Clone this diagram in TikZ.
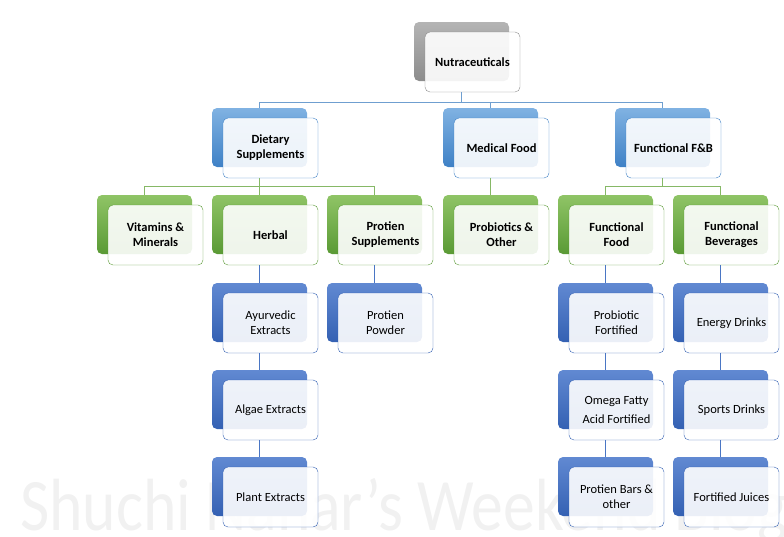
\documentclass[tikz,border=0pt]{standalone}
\usepackage{fontspec}
\setmainfont{Carlito}
\definecolor{grayT}{HTML}{B4B4B4}\definecolor{grayB}{HTML}{8C8C8C}
\definecolor{lblueT}{HTML}{80B2E2}\definecolor{lblueB}{HTML}{3F81C6}
\definecolor{greenT}{HTML}{8FC466}\definecolor{greenB}{HTML}{5A9A35}
\definecolor{dblueT}{HTML}{6189D2}\definecolor{dblueB}{HTML}{3461B3}
\definecolor{lblueL}{HTML}{6F9FD0}\definecolor{greenL}{HTML}{86B866}\definecolor{dblueL}{HTML}{4A76C4}
\tikzset{
  back/.style={draw=none, rounded corners=5pt, minimum width=95pt, minimum height=59pt,
    top color=#1T, bottom color=#1B},
  front/.style={draw=#1B, fill=white, fill opacity=0.9, text opacity=1, rounded corners=5pt,
    minimum width=95pt, minimum height=60pt, align=center, inner sep=1pt,
    font=\fontsize{12.5}{15}\selectfont},
  link/.style={draw=#1, line width=0.8pt}
}
% name, left x, top y, colour, text
\newcommand\bx[5]{%
  \node[back=#4] (#1B) at (#2+47.5, #3+29.5) {};
  \node[front=#4] (#1) at (#2+58.5, #3+40) {#5};}
\begin{document}
\begin{tikzpicture}[x=1pt, y=-1pt]
\useasboundingbox (0,0) rectangle (784,536);
\node[anchor=base west, text=gray!11, font=\fontsize{74}{80}\selectfont, inner sep=0, xscale=0.86] at (20,530) {Shuchi Nahar's Weekend Blog};

\bx{nutra}{414}{22}{gray}{\textbf{Nutraceuticals}}
\bx{diet}{212}{108}{lblue}{\textbf{Dietary}\\\textbf{Supplements}}
\bx{med}{443}{108}{lblue}{\textbf{Medical Food}}
\bx{fnb}{615}{108}{lblue}{\textbf{Functional F\&B}}
\bx{vit}{97}{195}{green}{\textbf{Vitamins \&}\\\textbf{Minerals}}
\bx{herb}{212}{195}{green}{\textbf{Herbal}}
\bx{prot}{327}{195}{green}{\textbf{Protien}\\\textbf{Supplements}}
\bx{probo}{443}{195}{green}{\textbf{Probiotics \&}\\\textbf{Other}}
\bx{ffood}{558}{195}{green}{\textbf{Functional}\\\textbf{Food}}
\bx{fbev}{673}{195}{green}{\textbf{Functional}\\\textbf{Beverages}}
\bx{ayur}{212}{283}{dblue}{Ayurvedic\\Extracts}
\bx{algae}{212}{370}{dblue}{Algae Extracts}
\bx{plant}{212}{457}{dblue}{Plant Extracts}
\bx{powd}{327}{283}{dblue}{Protien\\Powder}
\bx{pfort}{558}{283}{dblue}{Probiotic\\Fortified}
\bx{omega}{558}{370}{dblue}{Omega Fatty\\[4pt]Acid Fortified}
\bx{bars}{558}{457}{dblue}{Protien Bars \&\\other}
\bx{energy}{673}{283}{dblue}{Energy Drinks}
\bx{sports}{673}{370}{dblue}{Sports Drinks}
\bx{juice}{673}{457}{dblue}{Fortified Juices}

% connectors
\foreach \c in {diet,med,fnb}
  \draw[link=lblueL] (nutraB |- nutra.south) -- ++(0,10) -| (\c B.north);
\foreach \p/\c in {diet/vit,diet/herb,diet/prot,med/probo,fnb/ffood,fnb/fbev}
  \draw[link=greenL] (\p B |- \p.south) -- ++(0,8) -| (\c B.north);
\foreach \p/\c in {herb/ayur,ayur/algae,algae/plant,prot/powd,ffood/pfort,pfort/omega,omega/bars,fbev/energy,energy/sports,sports/juice}
  \draw[link=dblueL] (\p B |- \p.south) -- (\c B.north);
\end{tikzpicture}
\end{document}
